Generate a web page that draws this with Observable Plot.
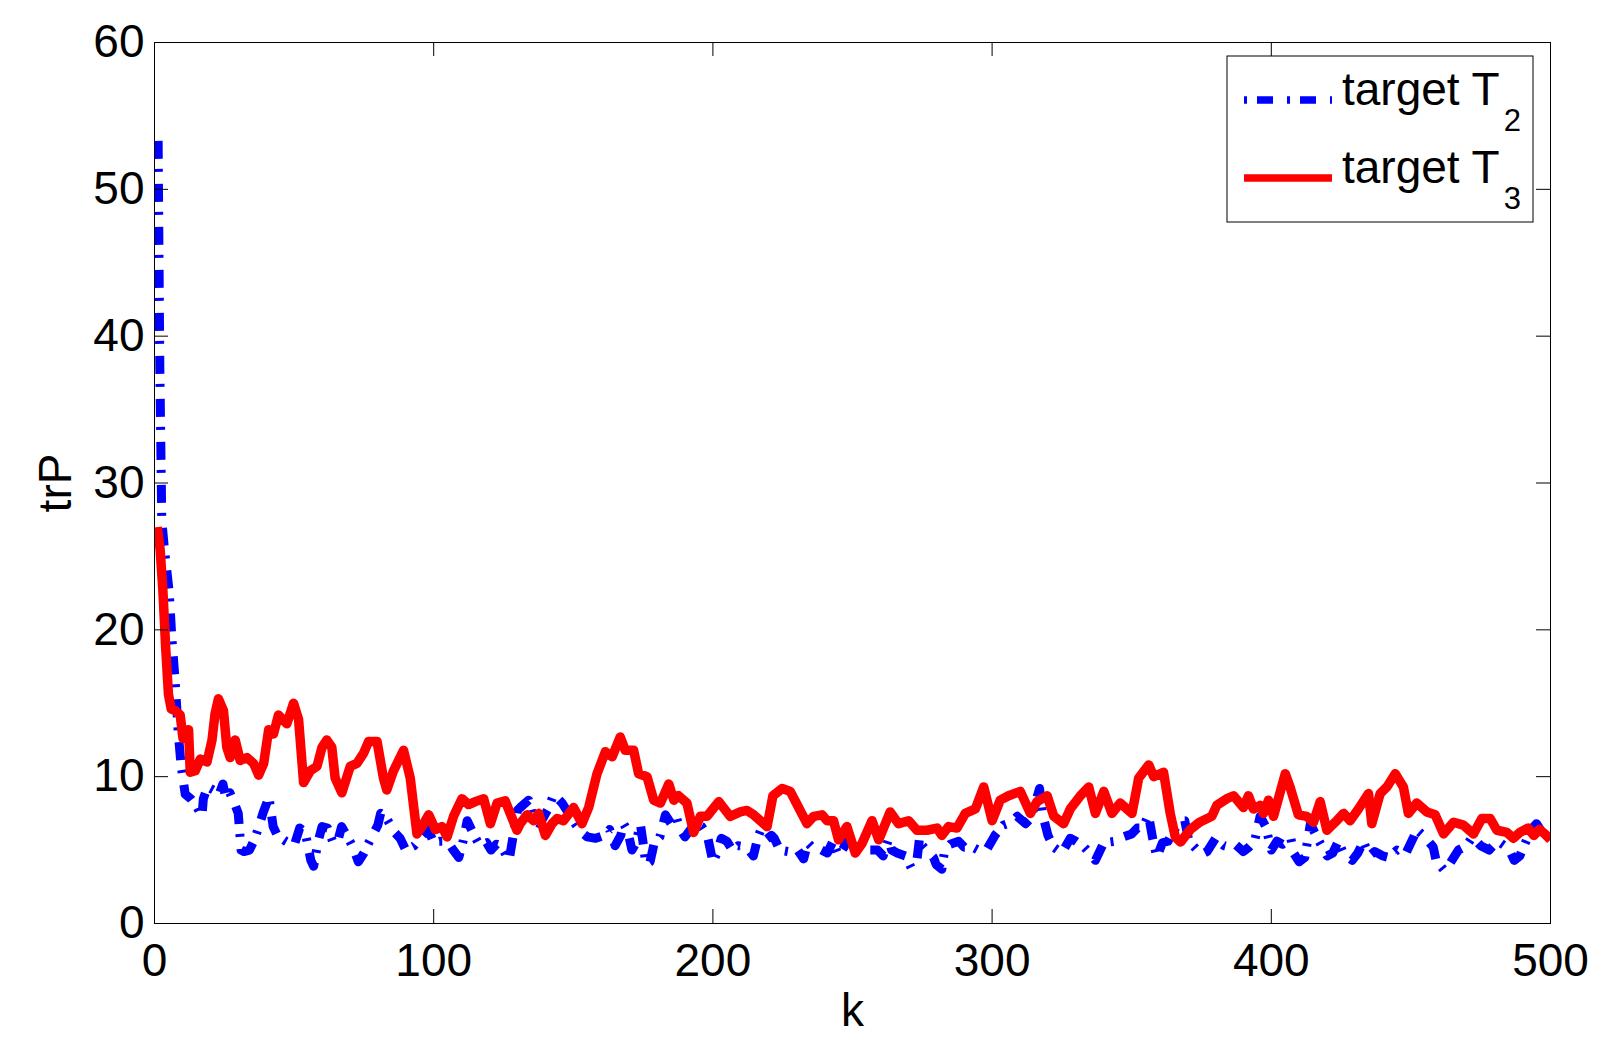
<!DOCTYPE html>
<html>
<head>
<meta charset="utf-8">
<script src="https://cdn.jsdelivr.net/npm/d3@7"></script>
<script src="https://cdn.jsdelivr.net/npm/@observablehq/plot@0.6"></script>
<style>
  html, body { margin: 0; padding: 0; background: #fff; }
  svg { display: block; }
</style>
</head>
<body>
<div id="chart"></div>
<script>
// ---- data ----
const xTicks = [0, 100, 200, 300, 400, 500];
const yTicks = [0, 10, 20, 30, 40, 50, 60];
const seriesNames = ["target T2", "target T3"];

// target T2 (blue, dash-dot)
const t2K = [1.3,1.9,2.6,3.5,5.3,6.2,7.4,8.5,9.5,11,13,15,17,17.5,19,21,23,24.5,25.5,27,29,30,31,32,34,36,37.5,39,41,42.5,44,47,50,52,54,56,57,58.5,60,62,64,65.5,67,70,71.5,73,75,77,80,81,83,86,88,90,93,96,98,100,102,105,107,109,110.5,112,114.5,116.5,119,120.5,122.5,124,127,130,131,134,136,138,141,143,146,148,151,153,155,158,161,163,165,167,168,169.5,171,172.5,174,175,176,177.5,179,181,183,185,187,188,190,192,194,196,198,200,201.5,203,205,207,209,212,214.5,216,217,219,221,222,224,227,230,232.5,234,236,238,241,243,245,247,248,251,253,256,259,261,263,264,266,269,271,273,274,275,277,279,280,282,283,285,288,290,293,296,298,301,304,307,309,312,314,317,318,320,322,325,328,330,333,335,337,340,344,347,350,352,354,356,357.5,359,361,363,365,367.5,369,370.5,373,375,377,380,383,385,387,390,392,394,396,398,400,402,404,407,408,410,412,414,416,418,420,422,424,426,429,431,433,435,437,440,442,445,448,451,452,455,458,459,462,464,467,470,472,475,478,480,482,485,487,489,491,493,495,497,500];
const t2P = [53.3,38,27.5,25.6,22.5,19.5,16.5,13,10.8,8.8,8.5,8.0,7.3,8.5,9.3,9.1,8.7,9.5,8.6,8.9,8.0,7.5,5.0,4.9,5.0,5.8,6.7,7.6,8.6,6.6,6.0,5.6,5.3,6.5,6.2,4.3,3.9,5.5,6.6,6.5,5.5,5.5,6.6,5.6,5.0,4.2,4.8,5.6,6.7,7.5,7.2,6.2,5.8,5.0,5.3,6.0,6.4,5.5,5.6,5.6,5.0,4.5,5.6,7.0,6.0,5.3,5.5,5.0,5.4,5.3,4.3,7.7,7.9,8.4,7.0,6.8,7.8,8.8,8.2,7.6,6.7,6.2,5.9,5.8,6.0,6.4,5.3,6.0,6.8,6.3,5.0,5.5,6.8,5.5,4.0,4.2,5.5,5.9,7.4,6.8,7.2,6.5,5.9,6.4,6.8,6.6,6.0,4.2,4.8,5.8,5.6,5.0,5.3,5.2,4.6,5.8,6.3,5.7,6.0,5.8,5.0,4.9,5.1,4.4,5.5,5.1,5.1,4.8,5.6,4.6,5.2,6.0,5.8,5.5,5.0,5.0,4.6,5.8,5.0,4.8,4.6,3.8,4.2,5.8,5.3,4.9,4.5,4.0,3.7,5.0,5.4,5.6,5.2,5.2,4.9,5.0,6.0,6.7,6.9,7.3,6.8,7.2,9.2,7.5,6.0,5.2,4.8,5.8,5.6,5.2,4.8,4.3,5.5,5.6,5.9,6.1,6.5,6.5,7.4,5.8,4.5,5.5,5.6,6.3,7.0,7.0,5.6,5.1,4.7,4.9,5.8,5.3,5.2,5.4,4.9,5.2,5.6,7.3,6.6,5.0,5.6,5.4,5.8,4.8,4.2,4.5,6.8,6.0,5.3,4.6,4.8,5.6,4.7,4.3,4.8,5.6,4.6,4.9,4.6,4.5,5.0,4.7,5.9,6.4,5.9,5.2,4.3,3.6,4.1,5.0,5.3,5.9,5.3,5.0,5.4,5.5,5.1,4.3,4.6,5.5,6.4,6.8,6.2,5.8];

// target T3 (red, solid)
const t3K = [1,2,3,4,5,6,7.4,9.2,10.2,12.2,12.8,14.6,16.4,18.8,20.6,21.7,22.9,24.7,25.9,27.1,28.9,30.7,33.1,35.5,37.3,39.1,40.9,42.6,44.4,47.4,49.8,51.6,53.4,55.8,58.2,60,61.7,63.5,64.7,67.1,70.1,72.5,74.9,76.7,79.7,82,83.2,85.6,89.2,91.6,94,95.8,98.2,100.6,103,104.8,107.1,110.1,112.5,114.9,117.9,120.3,122.7,125.6,127.4,129.8,131,133.4,135.8,137.6,140,142.4,144.2,146.5,150.1,153.1,155.5,158.5,161.5,163.9,166.8,168.6,171.6,173.4,176.4,178.8,181.2,184.2,186,187.7,190.7,193.1,195.5,197.9,202.1,206.2,209.8,212.2,214.6,219.4,221.5,224.8,227.7,230.7,233.7,236.1,239.1,240.9,243.2,245,248,251,253.4,257,259.4,263.5,266.5,270.1,273.1,276.7,280.3,282,284.4,287.4,290.4,294,297,300,302.9,305.9,310.1,313.7,316.1,319.7,322.1,325.6,328,331.6,334.6,337,340,342.9,345.9,350.1,352.5,356.1,357.9,361.4,363.8,365.6,367.5,371,374.3,378.7,380.5,384.1,386.5,390,391.8,393.6,396,397.2,399,400.8,405,406.7,409.7,412.7,415.1,417.5,419.9,422.9,425.9,428.2,431.2,434.8,436,439,441.4,444.4,447.3,449.1,452.1,455.7,458.7,461.7,465.3,468.8,472.4,475.4,478.4,480.8,484.4,486.7,489,492,494,496,498,500];
const t3P = [27,25.5,22.7,18.8,15.6,14.6,14.5,14.2,12.6,13.2,10.3,10.4,11.2,11.0,12.5,14.3,15.3,14.5,12.0,11.3,12.5,11.1,11.3,10.9,10.1,10.9,13.2,12.9,14.2,13.6,15.0,13.9,9.6,10.4,10.7,12.0,12.5,12.0,9.9,8.9,10.7,10.9,11.6,12.4,12.4,9.9,9.1,10.4,11.8,9.9,6.1,6.6,7.4,6.4,6.6,5.9,7.3,8.5,8.1,8.3,8.5,6.8,8.2,8.35,7.5,6.35,6.8,7.4,7.0,7.5,6.0,6.8,7.15,7.0,7.9,6.8,7.9,10.2,11.7,11.35,12.7,11.8,11.8,10.2,10.0,8.4,8.2,9.5,8.4,8.7,8.2,6.2,7.3,7.3,8.3,7.3,7.6,7.7,7.4,6.6,8.7,9.2,9.0,7.9,6.8,7.3,7.4,7.0,7.0,5.7,6.6,4.8,5.45,7.0,5.7,7.6,6.8,7.0,6.35,6.35,6.5,6.0,6.6,6.5,7.5,7.8,9.3,7.0,8.4,8.7,9.0,7.5,8.3,8.7,7.3,6.8,7.8,8.7,9.3,7.5,9.0,7.5,8.2,7.5,9.9,10.8,10.0,10.3,7.5,5.9,5.55,6.4,6.9,7.3,8.05,8.5,8.7,7.9,8.7,7.8,8.05,7.5,8.4,7.3,10.2,9.3,7.4,7.3,6.9,8.3,6.35,6.9,7.5,7.0,7.8,8.85,6.8,8.85,9.3,10.2,9.3,7.5,8.2,7.6,7.4,6.1,6.9,6.7,6.1,7.15,7.15,6.35,6.2,5.8,6.2,6.5,6.0,6.4,6.1,5.7];

const t2 = t2K.map((k, i) => ({k, trP: t2P[i], series: seriesNames[0]}));
const t3 = t3K.map((k, i) => ({k, trP: t3P[i], series: seriesNames[1]}));

// ---- layout ----
const W = 1615, H = 1057;
const mL = 154, mR = 65, mT = 42, mB = 134;
const innerW = W - mL - mR, innerH = H - mT - mB;
const tick = 14;
const FONT = "'Liberation Sans', Arial, Helvetica, sans-serif";
const BLUE = "#0000ff", RED = "#ff0000";
const DASH = "18,10,3,12";

const chart = Plot.plot({
  width: W, height: H,
  marginLeft: mL, marginRight: mR, marginTop: mT, marginBottom: mB,
  style: {fontFamily: FONT, fontSize: "46px", background: "#fff", color: "#000"},
  x: {domain: [0, 500]},
  y: {domain: [0, 60]},
  marks: [
    Plot.line(t2, {x: "k", y: "trP", stroke: BLUE, strokeWidth: 9, strokeDasharray: DASH,
      strokeLinecap: "butt", strokeLinejoin: "round", clip: true}),
    Plot.line(t3, {x: "k", y: "trP", stroke: RED, strokeWidth: 9.5,
      strokeLinecap: "butt", strokeLinejoin: "round", clip: true}),
    Plot.frame({stroke: "#000", strokeWidth: 1}),
    // inward ticks on all four sides (MATLAB box style)
    Plot.tickX(xTicks, {x: d => d, insetTop: innerH - tick, stroke: "#000", strokeWidth: 1}),
    Plot.tickX(xTicks, {x: d => d, insetBottom: innerH - tick, stroke: "#000", strokeWidth: 1}),
    Plot.tickY(yTicks, {y: d => d, insetRight: innerW - tick, stroke: "#000", strokeWidth: 1}),
    Plot.tickY(yTicks, {y: d => d, insetLeft: innerW - tick, stroke: "#000", strokeWidth: 1}),
    Plot.axisX(xTicks, {anchor: "bottom", tickSize: 0, tickPadding: 20, label: null, fontSize: 46, tickFormat: d => String(d)}),
    Plot.axisY(yTicks, {anchor: "left", tickSize: 0, tickPadding: 10, label: null, fontSize: 46, tickFormat: d => String(d)}),
    Plot.text(["k"], {frameAnchor: "bottom", dy: 102, lineAnchor: "bottom", textAnchor: "middle", fontSize: 46}),
    Plot.text(["trP"], {frameAnchor: "left", dx: -84, rotate: -90, lineAnchor: "bottom", textAnchor: "middle", fontSize: 46})
  ]
});

// ---- legend (inside the axes, top-right) ----
const svg = d3.select(chart);
const frameR = mL + innerW;
const lg = svg.append("g").attr("font-family", FONT).attr("text-anchor", "start");
const bx = frameR - 323, by = mT + 14, bw = 306, bh = 166;
lg.append("rect").attr("x", bx).attr("y", by).attr("width", bw).attr("height", bh)
  .attr("fill", "#fff").attr("stroke", "#000").attr("stroke-width", 1);
const rows = [
  {name: "target T", sub: "2", color: BLUE, dash: true, y: by + 44, base: by + 49},
  {name: "target T", sub: "3", color: RED, dash: false, y: by + 122, base: by + 127}
];
rows.forEach(r => {
  const ln = lg.append("line").attr("x1", bx + 17).attr("x2", bx + 105)
    .attr("y1", r.y).attr("y2", r.y).attr("stroke", r.color).attr("stroke-width", 7.7)
    .attr("stroke-linecap", "butt");
  if (r.dash) ln.attr("stroke-dasharray", "3,10,16,14");
  const t = lg.append("text").attr("x", bx + 115).attr("y", r.base)
    .attr("font-size", 46).attr("fill", "#000").attr("text-anchor", "start");
  t.append("tspan").text(r.name);
  t.append("tspan").attr("font-size", 31).attr("dx", 4).attr("dy", 26).text(r.sub);
});

document.getElementById("chart").appendChild(chart);
</script>
</body>
</html>
